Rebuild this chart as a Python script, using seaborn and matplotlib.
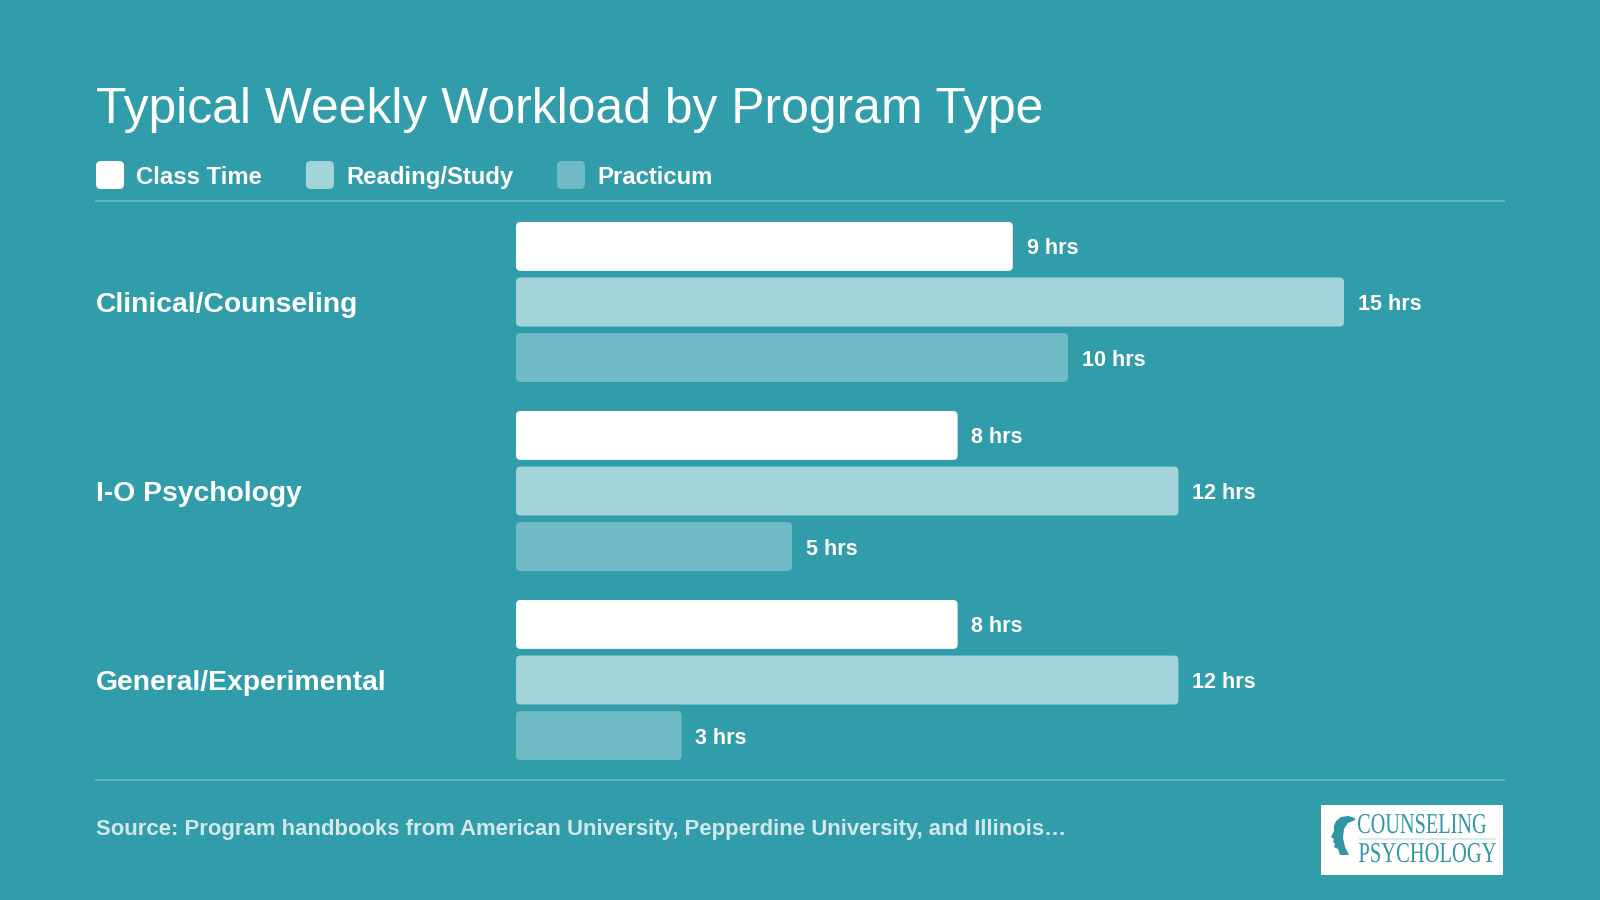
import pandas as pd
import seaborn as sns
import matplotlib.pyplot as plt
import matplotlib.transforms as mtransforms
from matplotlib.patches import FancyBboxPatch, Rectangle, PathPatch, Polygon
from matplotlib.textpath import TextPath
from matplotlib.font_manager import FontProperties

# Data
programs = ["Clinical/Counseling", "I-O Psychology", "General/Experimental"]
work_types = ["Class Time", "Reading/Study", "Practicum"]
class_time = [9, 8, 8]
reading_study = [15, 12, 12]
practicum = [10, 5, 3]

bg = "#319DAA"
colors = ["#FFFFFF", "#A3D4D9", "#6FBAC4"]
line_col = "#5CB3BE"
W, H = 1600, 900

df = pd.DataFrame({
    "program": programs * 3,
    "type": [t for t in work_types for _ in programs],
    "hours": class_time + reading_study + practicum,
})

plt.rcParams["font.family"] = ["Liberation Sans", "DejaVu Sans"]
fig = plt.figure(figsize=(16, 9), dpi=100, facecolor=bg)

# axes placed so bars start at x=516px
ax = fig.add_axes([516 / W, 1 - 770 / H, (1504 - 516) / W, (770 - 212) / H])
ax.set_facecolor(bg)
sns.barplot(data=df, y="program", x="hours", hue="type", orient="h",
            order=programs, hue_order=work_types, palette=colors,
            saturation=1, width=0.882, gap=0.12, legend=False, ax=ax)
ax.set_xlim(0, 988 / 55.2)
ax.set_ylim(2.476, -0.476)
ax.axis("off")

# rounded bars + value labels
aspect = 55.2 / 189
for p in list(ax.patches):
    x, y, w, h = p.get_x(), p.get_y(), p.get_width(), p.get_height()
    fc = p.get_facecolor()
    p.remove()
    ax.add_patch(FancyBboxPatch((x, y), w, h, boxstyle="round,pad=0,rounding_size=0.08",
                                mutation_aspect=aspect, fc=fc, ec="none"))
    ax.annotate(f"{w:g} hrs", (x + w, y + h / 2), xytext=(10, 0),
                textcoords="offset points", va="center_baseline", ha="left",
                color="white", fontsize=15.5, fontweight="bold")

# category labels on the left
trans = mtransforms.blended_transform_factory(fig.transFigure, ax.transData)
for i, name in enumerate(programs):
    fig.text(96 / W, i, name, transform=trans, va="center_baseline", ha="left",
             color="white", fontsize=20.3, fontweight="bold")

# title
fig.text(96 / W, 1 - 105 / H, "Typical Weekly Workload by Program Type",
         va="center_baseline", ha="left", color="white", fontsize=35.8)

# legend
fig.canvas.draw()
renderer = fig.canvas.get_renderer()
lx = 96
ly = 175
for name, c in zip(work_types, colors):
    fig.patches.append(FancyBboxPatch((lx / W, 1 - (ly + 14) / H), 28 / W, 28 / H,
                                      boxstyle="round,pad=0,rounding_size=0.003",
                                      mutation_aspect=16 / 9, fc=c, ec="none",
                                      transform=fig.transFigure, figure=fig))
    t = fig.text((lx + 40) / W, 1 - ly / H, name, va="center_baseline", ha="left",
                 color="white", fontsize=17.2, fontweight="bold")
    tw = t.get_window_extent(renderer).width
    lx = lx + 40 + tw + 44

# separator lines
for yy in (201, 780):
    fig.add_artist(plt.Line2D([96 / W, 1504 / W], [1 - yy / H, 1 - yy / H],
                              color=line_col, lw=1.5, transform=fig.transFigure))

# source
fig.text(96 / W, 1 - 827 / H,
         "Source: Program handbooks from American University, Pepperdine University, and Illinois\u2026",
         va="center_baseline", ha="left", color="#D3E8EB", fontsize=15.9, fontweight="bold")

# logo (drawn in pixel coordinates)
logo_teal = "#2F97A3"
pix = mtransforms.IdentityTransform()
fig.add_artist(Rectangle((1321, H - 875), 182, 70, fc="white", ec="none", transform=pix))

serif = FontProperties(family="Liberation Serif")


def squeezed_text(s, x0, x1, y_base, cap):
    tp = TextPath((0, 0), s, size=cap / 0.66, prop=serif)
    ext = tp.get_extents()
    sx = (x1 - x0) / ext.width
    tr = mtransforms.Affine2D().translate(-ext.x0, 0).scale(sx, 1).translate(x0, H - y_base)
    fig.add_artist(PathPatch(tr.transform_path(tp), fc=logo_teal, ec="none", transform=pix))


squeezed_text("COUNSELING", 1358, 1486, 833, 19)
squeezed_text("PSYCHOLOGY", 1359, 1496, 862, 19)
fig.add_artist(plt.Line2D([1360, 1495], [H - 839, H - 839], color="#CFE9EC", lw=1.2,
                          transform=pix))

# simple head profile facing left
head = [(25, 2), (18, 0), (11, 1), (6, 5), (4, 10), (4, 15), (1, 21), (4, 23),
        (3, 26), (5, 28), (4, 31), (8, 33), (10, 39), (19, 39), (15, 31),
        (13, 22), (14, 13), (18, 7), (25, 4)]
fig.add_artist(Polygon([(1330 + px, H - (816 + py)) for px, py in head],
                       closed=True, fc=logo_teal, ec="none", transform=pix))

fig.savefig("out.png", dpi=100, facecolor=bg)
